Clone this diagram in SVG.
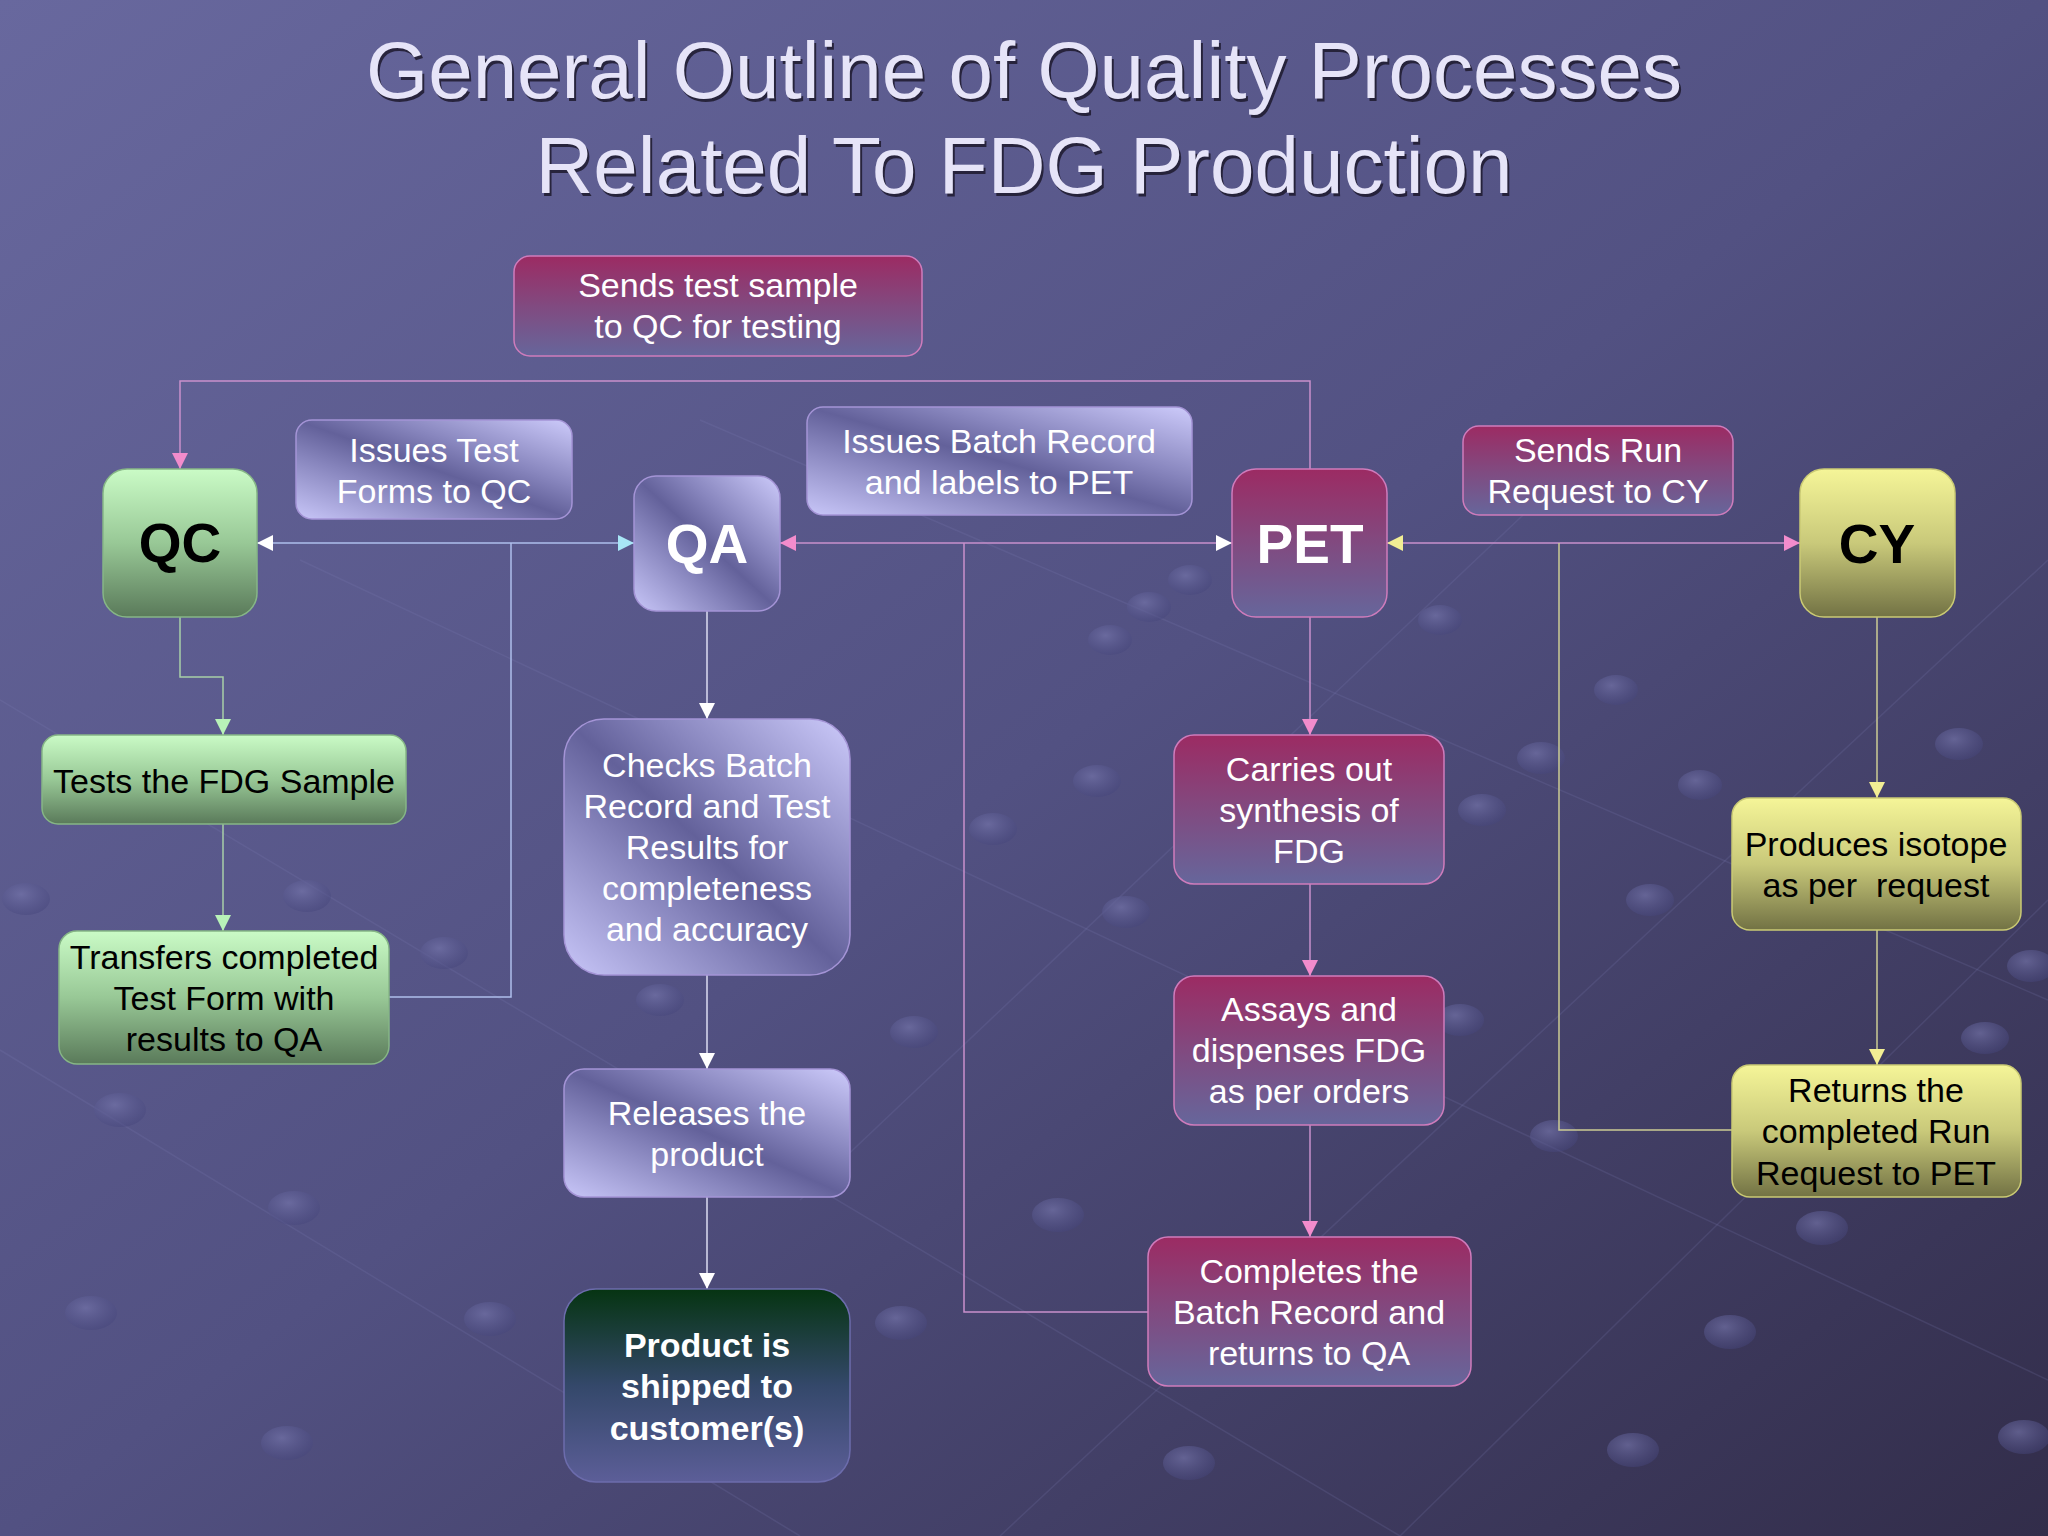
<svg xmlns="http://www.w3.org/2000/svg" width="2048" height="1536" viewBox="0 0 2048 1536">
<defs>
  <linearGradient id="bg" x1="0" y1="0" x2="1" y2="1">
    <stop offset="0" stop-color="#68689e"/>
    <stop offset="0.5" stop-color="#525182"/>
    <stop offset="1" stop-color="#322d4a"/>
  </linearGradient>
  <radialGradient id="blob" cx="0.4" cy="0.35" r="0.7">
    <stop offset="0" stop-color="#7676ac" stop-opacity="0.65"/>
    <stop offset="1" stop-color="#44447a" stop-opacity="0.45"/>
  </radialGradient>
  <linearGradient id="gMag" x1="0" y1="0" x2="0" y2="1">
    <stop offset="0" stop-color="#9c2b63"/>
    <stop offset="0.5" stop-color="#814a80"/>
    <stop offset="1" stop-color="#66669b"/>
  </linearGradient>
  <linearGradient id="gGreen" x1="0" y1="0" x2="0" y2="1">
    <stop offset="0" stop-color="#cafbc6"/>
    <stop offset="0.5" stop-color="#98c896"/>
    <stop offset="1" stop-color="#5a7a5a"/>
  </linearGradient>
  <linearGradient id="gYel" x1="0" y1="0" x2="0" y2="1">
    <stop offset="0" stop-color="#f5f598"/>
    <stop offset="0.5" stop-color="#c9c97a"/>
    <stop offset="1" stop-color="#727244"/>
  </linearGradient>
  <linearGradient id="gProd" x1="0" y1="0" x2="0" y2="1">
    <stop offset="0" stop-color="#063412"/>
    <stop offset="0.5" stop-color="#34486a"/>
    <stop offset="1" stop-color="#5c5e98"/>
  </linearGradient>
  <linearGradient id="gLav" x1="1" y1="0" x2="0" y2="1">
    <stop offset="0" stop-color="#cdcbfb"/>
    <stop offset="0.33" stop-color="#8886be"/>
    <stop offset="0.5" stop-color="#63619a"/>
    <stop offset="0.67" stop-color="#8684bc"/>
    <stop offset="1" stop-color="#c8c6f8"/>
  </linearGradient>
  <marker id="aPink" markerUnits="userSpaceOnUse" markerWidth="16" markerHeight="16" refX="16" refY="8" orient="auto-start-reverse"><path d="M0,0 L16,8 L0,16 z" fill="#f28ccc"/></marker>
  <marker id="aWhite" markerUnits="userSpaceOnUse" markerWidth="16" markerHeight="16" refX="16" refY="8" orient="auto-start-reverse"><path d="M0,0 L16,8 L0,16 z" fill="#ffffff"/></marker>
  <marker id="aGreen" markerUnits="userSpaceOnUse" markerWidth="16" markerHeight="16" refX="16" refY="8" orient="auto-start-reverse"><path d="M0,0 L16,8 L0,16 z" fill="#b8f2b8"/></marker>
  <marker id="aYel" markerUnits="userSpaceOnUse" markerWidth="16" markerHeight="16" refX="16" refY="8" orient="auto-start-reverse"><path d="M0,0 L16,8 L0,16 z" fill="#f2ee94"/></marker>
  <marker id="aCyan" markerUnits="userSpaceOnUse" markerWidth="16" markerHeight="16" refX="16" refY="8" orient="auto-start-reverse"><path d="M0,0 L16,8 L0,16 z" fill="#a8e6f6"/></marker>
</defs>
<style>
  text { font-family: "Liberation Sans", Arial, sans-serif; text-anchor: middle; }
  .t { font-size: 34px; fill: #ffffff; }
  .tb { font-size: 34px; fill: #000000; }
  .tp { font-size: 34px; fill: #ffffff; font-weight: bold; }
  .big { font-size: 55px; font-weight: bold; }
  .title { font-size: 80px; fill: #e6e4f8; }
  .shadow { font-size: 80px; fill: #1e1a2e; opacity: 0.85; }
  .mag { fill: url(#gMag); stroke: #cf7cbc; stroke-width: 1.5; }
  .lav { fill: url(#gLav); stroke: #a494d6; stroke-width: 1.5; }
  .grn { fill: url(#gGreen); stroke: #86b686; stroke-width: 1.5; }
  .yel { fill: url(#gYel); stroke: #caca74; stroke-width: 1.5; }
  .prd { fill: url(#gProd); stroke: #6c6cac; stroke-width: 1.5; }
  .c { fill: none; stroke-width: 1.5; }
  .pk { stroke: #c990cc; }
  .wh { stroke: #dcdcf2; }
  .bl { stroke: #aebfec; }
  .gr { stroke: #a8cfa8; }
  .yl { stroke: #cccc94; }
  .deco line { stroke: #8080b8; stroke-width: 1.5; opacity: 0.18; }
  .deco ellipse { fill: url(#blob); }
</style>
<rect x="0" y="0" width="2048" height="1536" fill="url(#bg)"/>
<g class="deco">
  <line x1="0" y1="700" x2="1400" y2="1536"/>
  <line x1="0" y1="1050" x2="800" y2="1536"/>
  <line x1="300" y1="560" x2="2048" y2="1380"/>
  <line x1="700" y1="420" x2="2048" y2="1000"/>
  <line x1="1000" y1="1536" x2="2048" y2="560"/>
  <line x1="1400" y1="1536" x2="2048" y2="900"/>
  <line x1="800" y1="1200" x2="1560" y2="480"/>
  <ellipse cx="120" cy="1110" rx="26" ry="17"/>
  <ellipse cx="294" cy="1208" rx="26" ry="17"/>
  <ellipse cx="91" cy="1313" rx="26" ry="17"/>
  <ellipse cx="490" cy="1319" rx="26" ry="17"/>
  <ellipse cx="287" cy="1443" rx="26" ry="17"/>
  <ellipse cx="26" cy="899" rx="24" ry="16"/>
  <ellipse cx="307" cy="896" rx="24" ry="16"/>
  <ellipse cx="444" cy="953" rx="24" ry="16"/>
  <ellipse cx="280" cy="1030" rx="24" ry="16"/>
  <ellipse cx="660" cy="1000" rx="24" ry="16"/>
  <ellipse cx="901" cy="1323" rx="26" ry="17"/>
  <ellipse cx="1058" cy="1215" rx="26" ry="17"/>
  <ellipse cx="914" cy="1032" rx="24" ry="16"/>
  <ellipse cx="993" cy="829" rx="24" ry="16"/>
  <ellipse cx="1097" cy="781" rx="24" ry="16"/>
  <ellipse cx="1126" cy="912" rx="24" ry="16"/>
  <ellipse cx="1149" cy="607" rx="22" ry="15"/>
  <ellipse cx="1110" cy="640" rx="22" ry="15"/>
  <ellipse cx="1190" cy="580" rx="22" ry="15"/>
  <ellipse cx="1482" cy="810" rx="24" ry="16"/>
  <ellipse cx="1541" cy="758" rx="24" ry="16"/>
  <ellipse cx="1616" cy="690" rx="22" ry="15"/>
  <ellipse cx="1700" cy="785" rx="22" ry="15"/>
  <ellipse cx="1822" cy="1228" rx="26" ry="17"/>
  <ellipse cx="1730" cy="1332" rx="26" ry="17"/>
  <ellipse cx="1633" cy="1450" rx="26" ry="17"/>
  <ellipse cx="2024" cy="1437" rx="26" ry="17"/>
  <ellipse cx="1985" cy="1038" rx="24" ry="16"/>
  <ellipse cx="2031" cy="966" rx="24" ry="16"/>
  <ellipse cx="1959" cy="744" rx="24" ry="16"/>
  <ellipse cx="1554" cy="1136" rx="24" ry="16"/>
  <ellipse cx="1189" cy="1463" rx="26" ry="17"/>
  <ellipse cx="1460" cy="1020" rx="24" ry="16"/>
  <ellipse cx="1440" cy="620" rx="22" ry="15"/>
  <ellipse cx="1650" cy="900" rx="24" ry="16"/>
</g>
<g id="title">
  <text class="shadow" x="1026" y="101">General Outline of Quality Processes</text>
  <text class="shadow" x="1026" y="196">Related To FDG Production</text>
  <text class="title" x="1024" y="98">General Outline of Quality Processes</text>
  <text class="title" x="1024" y="193">Related To FDG Production</text>
</g>
<g id="connectors">
  <path class="c pk" d="M1310,469 V381 H180 V469" marker-end="url(#aPink)"/>
  <path class="c bl" d="M257,543 H634" marker-start="url(#aWhite)" marker-end="url(#aCyan)"/>
  <path class="c bl" d="M389,997 H511 V543"/>
  <path class="c pk" d="M780,543 H1232" marker-start="url(#aPink)" marker-end="url(#aWhite)"/>
  <path class="c pk" d="M1148,1312 H964 V543"/>
  <path class="c pk" d="M1387,543 H1800" marker-start="url(#aYel)" marker-end="url(#aPink)"/>
  <path class="c yl" d="M1732,1130 H1559 V543"/>
  <path class="c gr" d="M180,617 V677 H223 V735" marker-end="url(#aGreen)"/>
  <path class="c gr" d="M223,824 V931" marker-end="url(#aGreen)"/>
  <path class="c wh" d="M707,611 V719" marker-end="url(#aWhite)"/>
  <path class="c wh" d="M707,975 V1069" marker-end="url(#aWhite)"/>
  <path class="c wh" d="M707,1197 V1289" marker-end="url(#aWhite)"/>
  <path class="c pk" d="M1310,617 V735" marker-end="url(#aPink)"/>
  <path class="c pk" d="M1310,884 V976" marker-end="url(#aPink)"/>
  <path class="c pk" d="M1310,1125 V1237" marker-end="url(#aPink)"/>
  <path class="c yl" d="M1877,617 V798" marker-end="url(#aYel)"/>
  <path class="c yl" d="M1877,930 V1065" marker-end="url(#aYel)"/>
</g>
<g id="node-sends-sample">
  <rect class="mag" x="514" y="256" width="408" height="100" rx="16"/>
  <text class="t" x="718" y="297">Sends test sample</text>
  <text class="t" x="718" y="338">to QC for testing</text>
</g>
<g id="node-qc">
  <rect class="grn" x="103" y="469" width="154" height="148" rx="24"/>
  <text class="big" x="180" y="562" fill="#000">QC</text>
</g>
<g id="node-issues-test">
  <rect class="lav" x="296" y="420" width="276" height="99" rx="16"/>
  <text class="t" x="434" y="462">Issues Test</text>
  <text class="t" x="434" y="503">Forms to QC</text>
</g>
<g id="node-qa">
  <rect class="lav" x="634" y="476" width="146" height="135" rx="22"/>
  <text class="big" x="707" y="563" fill="#fff">QA</text>
</g>
<g id="node-issues-batch">
  <rect class="lav" x="807" y="407" width="385" height="108" rx="16"/>
  <text class="t" x="999" y="453">Issues Batch Record</text>
  <text class="t" x="999" y="494">and labels to PET</text>
</g>
<g id="node-pet">
  <rect class="mag" x="1232" y="469" width="155" height="148" rx="24"/>
  <text class="big" x="1310" y="563" fill="#fff">PET</text>
</g>
<g id="node-sends-run">
  <rect class="mag" x="1463" y="426" width="270" height="89" rx="16"/>
  <text class="t" x="1598" y="462">Sends Run</text>
  <text class="t" x="1598" y="503">Request to CY</text>
</g>
<g id="node-cy">
  <rect class="yel" x="1800" y="469" width="155" height="148" rx="24"/>
  <text class="big" x="1877" y="563" fill="#000">CY</text>
</g>
<g id="node-tests">
  <rect class="grn" x="42" y="735" width="364" height="89" rx="16"/>
  <text class="tb" x="224" y="793">Tests the FDG Sample</text>
</g>
<g id="node-transfers">
  <rect class="grn" x="59" y="931" width="330" height="133" rx="18"/>
  <text class="tb" x="224" y="969">Transfers completed</text>
  <text class="tb" x="224" y="1010">Test Form with</text>
  <text class="tb" x="224" y="1051">results to QA</text>
</g>
<g id="node-checks">
  <rect class="lav" x="564" y="719" width="286" height="256" rx="40"/>
  <text class="t" x="707" y="777">Checks Batch</text>
  <text class="t" x="707" y="818">Record and Test</text>
  <text class="t" x="707" y="859">Results for</text>
  <text class="t" x="707" y="900">completeness</text>
  <text class="t" x="707" y="941">and accuracy</text>
</g>
<g id="node-releases">
  <rect class="lav" x="564" y="1069" width="286" height="128" rx="20"/>
  <text class="t" x="707" y="1125">Releases the</text>
  <text class="t" x="707" y="1166">product</text>
</g>
<g id="node-product">
  <rect class="prd" x="564" y="1289" width="286" height="193" rx="32"/>
  <text class="tp" x="707" y="1357">Product is</text>
  <text class="tp" x="707" y="1398">shipped to</text>
  <text class="tp" x="707" y="1440">customer(s)</text>
</g>
<g id="node-carries">
  <rect class="mag" x="1174" y="735" width="270" height="149" rx="20"/>
  <text class="t" x="1309" y="781">Carries out</text>
  <text class="t" x="1309" y="822">synthesis of</text>
  <text class="t" x="1309" y="863">FDG</text>
</g>
<g id="node-assays">
  <rect class="mag" x="1174" y="976" width="270" height="149" rx="20"/>
  <text class="t" x="1309" y="1021">Assays and</text>
  <text class="t" x="1309" y="1062">dispenses FDG</text>
  <text class="t" x="1309" y="1103">as per orders</text>
</g>
<g id="node-completes">
  <rect class="mag" x="1148" y="1237" width="323" height="149" rx="20"/>
  <text class="t" x="1309" y="1283">Completes the</text>
  <text class="t" x="1309" y="1324">Batch Record and</text>
  <text class="t" x="1309" y="1365">returns to QA</text>
</g>
<g id="node-produces">
  <rect class="yel" x="1732" y="798" width="289" height="132" rx="18"/>
  <text class="tb" x="1876" y="856">Produces isotope</text>
  <text class="tb" x="1876" y="897" xml:space="preserve">as per  request</text>
</g>
<g id="node-returns">
  <rect class="yel" x="1732" y="1065" width="289" height="132" rx="18"/>
  <text class="tb" x="1876" y="1102">Returns the</text>
  <text class="tb" x="1876" y="1143">completed Run</text>
  <text class="tb" x="1876" y="1185">Request to PET</text>
</g>
</svg>
